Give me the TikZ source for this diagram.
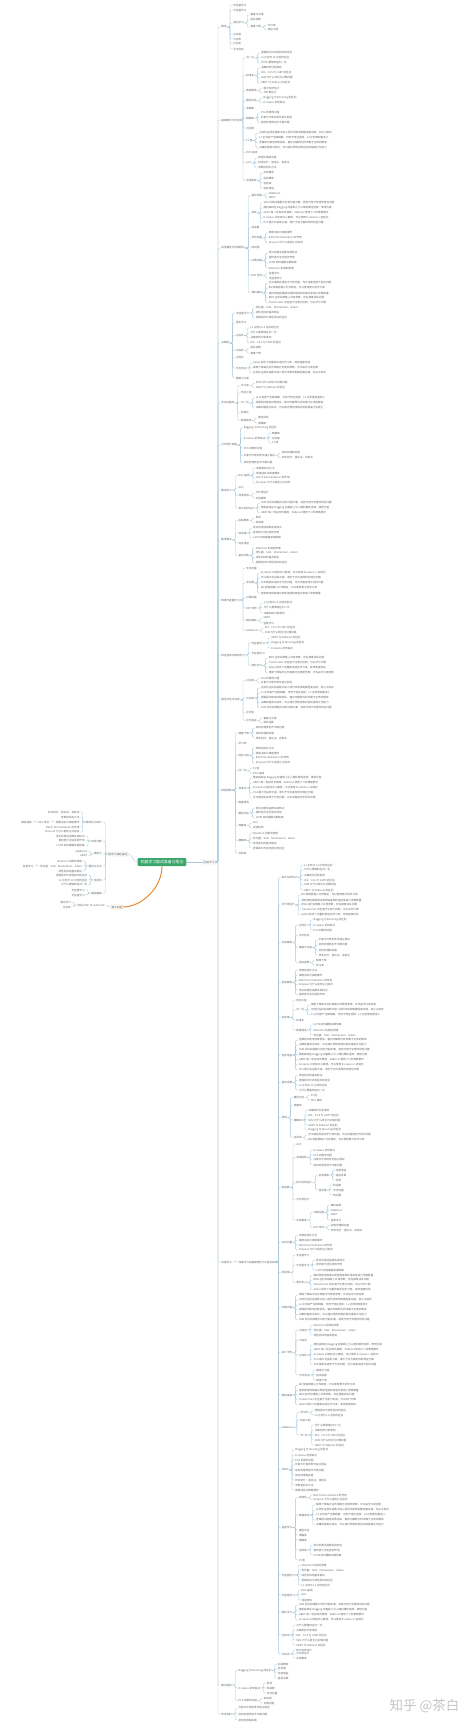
\documentclass[tikz,border=0pt]{standalone}
\usepackage{fontspec}
\newfontfamily\cjk{Noto Sans CJK SC}
\usetikzlibrary{calc}
\definecolor{lnkc}{RGB}{165,200,220}
\definecolor{txt}{RGB}{105,105,105}
\definecolor{cgreen}{RGB}{58,168,108}
\definecolor{corange}{RGB}{232,128,30}
\newcount\pcS \newcount\pcM \newcount\pcL
\newcommand\PoolS{\global\advance\pcS by 1 \ifnum\pcS>39 \global\pcS=0 \fi\ifcase\pcS 监督学习\or 无监督学习\or 半监督学习\or 强化学习\or 过拟合\or 欠拟合\or 正则化\or 交叉验证\or 偏差与方差\or 损失函数\or 梯度下降\or 学习率\or 特征工程\or 归一化\or 标准化\or 数据清洗\or 模型评估\or 准确率\or 精确率\or 召回率\or F1 值\or ROC 曲线\or AUC\or 混淆矩阵\or 极大似然估计\or 贝叶斯估计\or 先验概率\or 后验概率\or 信息熵\or 信息增益\or 基尼系数\or 剪枝\or 核函数\or 支持向量\or 软间隔\or 对偶问题\or KKT 条件\or 随机森林\or AdaBoost\or GBDT\fi}
\newcommand\PoolM{\global\advance\pcM by 1 \ifnum\pcM>23 \global\pcM=0 \fi\ifcase\pcM 线性回归的基本假设\or 逻辑回归与线性回归的区别\or L1 正则与 L2 正则的区别\or 为什么要做特征归一化\or 决策树的分裂准则\or ID3、C4.5 与 CART 的区别\or SVM 为什么转化为对偶问题\or GBDT 与 XGBoost 的区别\or Bagging 与 Boosting 的区别\or K-means 的优缺点\or PCA 的推导过程\or 朴素贝叶斯的条件独立假设\or 如何处理类别不平衡问题\or 如何处理缺失值\or 样本划分：留出法、自助法\or 参数初始化方法\or 梯度消失与梯度爆炸\or Batch Normalization 的作用\or Dropout 为什么能防止过拟合\or 常见的激活函数及其特点\or 卷积层与池化层的作用\or LSTM 如何缓解长期依赖\or Attention 机制的原理\or 优化器：SGD、Momentum、Adam\fi}
\newcommand\PoolL{\global\advance\pcL by 1 \ifnum\pcL>15 \global\pcL=0 \fi\ifcase\pcL 梯度下降每次沿负梯度方向更新参数，步长由学习率控制\or 正则化在损失函数中加入惩罚项来限制模型复杂度，防止过拟合\or L1 正则会产生稀疏解，可用于特征选择；L2 正则使权重变小\or 逻辑回归使用对数损失，输出可解释为样本属于正类的概率\or 决策树容易过拟合，可以通过预剪枝和后剪枝提高泛化能力\or SVM 寻找间隔最大的划分超平面，核技巧用于处理非线性问题\or 随机森林在 Bagging 的基础上引入随机属性选择，降低方差\or GBDT 每一轮拟合负梯度，XGBoost 使用了二阶泰勒展开\or K-means 对初始中心敏感，可以使用 K-means++ 初始化\or PCA 最大化投影方差，等价于协方差矩阵的特征分解\or 交叉熵损失适用于分类问题，均方误差适用于回归问题\or BN 使每层输入分布稳定，可以使用更大的学习率\or 卷积神经网络通过局部连接和权值共享减少参数数量\or RNN 在时间维度上共享参数，存在梯度消失问题\or Transformer 完全基于注意力机制，可以并行计算\or Adam 结合了动量和自适应学习率，收敛速度较快\fi}
\tikzset{
  leaf/.style={anchor=west, inner sep=0.4pt, outer sep=0pt, text=txt, font=\cjk\fontsize{2.6}{3}\selectfont},
  topic/.style={leaf, draw=gray!40, rounded corners=0.8pt, inner sep=0.8pt},
  lnk/.style={draw=lnkc, line width=0.35pt, rounded corners=1.2pt}
}
\newcommand\kid[4]{%
  \coordinate (tmp) at ([xshift=6pt]#1.east);
  \coordinate (yy) at (0,#3);
  \node[leaf] (#2) at (tmp |- yy) {#4};
  \draw[lnk] (#1.east) -- ++(3pt,0) |- (#2.west);}
\newcommand\kidsat[4]{%
  \foreach \yy [count=\ii] in {#3} {%
    \coordinate (tmp) at ([xshift=6pt]#1.east);
    \coordinate (yy) at (0,\yy);
    \node[leaf] (#2\ii) at (tmp |- yy) {\csname Pool#4\endcsname};
    \draw[lnk] (#1.east) -- ++(3pt,0) |- (#2\ii.west);}}
\newcommand\lkid[4]{%
  \coordinate (tmp) at ([xshift=-6pt]#1.west);
  \coordinate (yy) at (0,#3);
  \node[leaf, anchor=east] (#2) at (tmp |- yy) {#4};
  \draw[lnk] (#1.west) -- ++(-3pt,0) |- (#2.east);}
\newcommand\lkidsat[4]{%
  \foreach \yy [count=\ii] in {#3} {%
    \coordinate (tmp) at ([xshift=-6pt]#1.west);
    \coordinate (yy) at (0,\yy);
    \node[leaf, anchor=east] (#2\ii) at (tmp |- yy) {\csname Pool#4\endcsname};
    \draw[lnk] (#1.west) -- ++(-3pt,0) |- (#2\ii.east);}}
\begin{document}
\begin{tikzpicture}[x=1pt,y=-1pt]
\fill[white] (0,0) rectangle (474,1725);
\useasboundingbox (0,0) rectangle (474,1725);
% centre
\node[fill=cgreen, text=white, rounded corners=1pt, inner xsep=3pt, inner ysep=2.2pt, font=\cjk\fontsize{3.9}{4.5}\selectfont] (C) at (162,862) {机器学习面试准备与笔记};
\node[topic] (R) at (203,862) {机器学习};
\node[topic, anchor=east] (L) at (128,854) {数学与编程基础};
\draw[lnk] (C.east) .. controls +(4,0) and +(-4,0) .. (R.west);
\draw[lnk] (L.east) .. controls +(5,0) and +(-5,0) .. (C.west);
% ---------- right tree ----------
\kid{R}{A}{27}{概述}
\kidsat{A}{Ak}{5,10,23,35,39,44,49}{S}
\kidsat{Ak3}{Ak3k}{15,20,27}{S}
\kidsat{Ak3k3}{Ak3k3k}{25,30}{S}
\kid{R}{B}{120}{基础概念与术语}
\kidsat{B}{Bk}{58,75.5,90.5,100.5,108,118,128,140.5,153,163,180.5}{S}
\kidsat{Bk1}{Bk1k}{53,58,63}{M}
\kidsat{Bk2}{Bk2k}{68,73,78,83}{M}
\kidsat{Bk3}{Bk3k}{88,93}{S}
\kidsat{Bk4}{Bk4k}{98,103}{M}
\kidsat{Bk6}{Bk6k}{113,118,123}{M}
\kidsat{Bk8}{Bk8k}{133,138,143,148}{L}
\kidsat{Bk10}{Bk10k}{158,163,168}{M}
\kidsat{Bk11}{Bk11k}{173,178,183,188}{S}
\kid{R}{C2}{248}{线性模型与逻辑回归}
\kidsat{C2}{Ck}{195.5,213,228,238,248,260.5,275.5,293}{S}
\kidsat{Ck1}{Ck1k}{193,198}{S}
\kidsat{Ck2}{Ck2k}{203,208,213,218,223}{L}
\kidsat{Ck4}{Ck4k}{233,238,243}{M}
\kidsat{Ck6}{Ck6k}{253,258,263,268}{M}
\kidsat{Ck7}{Ck7k}{273,278}{S}
\kidsat{Ck8}{Ck8k}{283,288,293,298,303}{L}
\kid{R}{D}{343}{决策树}
\kidsat{D}{Dk}{313,323,335.5,350.5,358,368,378}{S}
\kidsat{Dk1}{Dk1k}{308,313,318}{M}
\kidsat{Dk3}{Dk3k}{328,333,338,343}{M}
\kidsat{Dk4}{Dk4k}{348,353}{S}
\kidsat{Dk6}{Dk6k}{363,368,373}{L}
\kid{R}{E}{403}{支持向量机}
\kidsat{E}{Ek}{385.5,393,403,413,420.5}{S}
\kidsat{Ek1}{Ek1k}{383,388}{M}
\kidsat{Ek3}{Ek3k}{398,403,408}{L}
\kidsat{Ek5}{Ek5k}{418,423}{S}
\kid{R}{F}{445}{贝叶斯分类器}
\kidsat{F}{Fk}{428,438,448,455.5,463}{M}
\kidsat{Fk2}{Fk2k}{433,438,443}{S}
\kidsat{Fk4}{Fk4k}{453,458}{M}
\kid{R}{G}{490}{集成学习}
\kidsat{G}{Gk}{475.5,488,495.5,508}{S}
\kidsat{Gk1}{Gk1k}{468,473,478,483}{M}
\kidsat{Gk3}{Gk3k}{493,498}{S}
\kidsat{Gk4}{Gk4k}{503,508,513}{L}
\kid{R}{H}{540}{聚类算法}
\kidsat{H}{Hk}{520.5,533,543,555.5}{S}
\kidsat{Hk1}{Hk1k}{518,523}{S}
\kidsat{Hk2}{Hk2k}{528,533,538}{M}
\kidsat{Hk4}{Hk4k}{548,553,558,563}{M}
\kid{R}{I}{600}{降维与度量学习}
\kidsat{I}{Ik}{568,583,598,608,620.5,630.5}{S}
\kidsat{Ik2}{Ik2k}{573,578,583,588,593}{L}
\kidsat{Ik4}{Ik4k}{603,608,613}{M}
\kidsat{Ik5}{Ik5k}{618,623}{S}
\kidsat{Ik6}{Ik6k}{628,633}{M}
\kid{R}{J}{655}{特征选择与稀疏学习}
\kidsat{J}{Jk}{643,653,665.5}{S}
\kidsat{Jk1}{Jk1k}{638,643,648}{M}
\kidsat{Jk3}{Jk3k}{658,663,668,673}{L}
\kid{R}{K}{700}{模型评估与选择}
\kidsat{K}{Kk}{680.5,698,713,720.5}{S}
\kidsat{Kk1}{Kk1k}{678,683}{M}
\kidsat{Kk2}{Kk2k}{688,693,698,703,708}{L}
\kidsat{Kk4}{Kk4k}{718,723}{S}
\kid{R}{M}{790}{神经网络}
\kidsat{M}{Mk}{733,743,755.5,770.5,788,803,813,825.5,840.5,853}{S}
\kidsat{Mk1}{Mk1k}{728,733,738}{M}
\kidsat{Mk3}{Mk3k}{748,753,758,763}{M}
\kidsat{Mk4}{Mk4k}{768,773}{S}
\kidsat{Mk5}{Mk5k}{778,783,788,793,798}{L}
\kidsat{Mk7}{Mk7k}{808,813,818}{M}
\kidsat{Mk8}{Mk8k}{823,828}{S}
\kidsat{Mk9}{Mk9k}{833,838,843,848}{M}
\kid{R}{N}{1262}{深度学习}
\kid{N}{N0}{1262}{深度学习的基础理论与工程实践}
\kidsat{N0}{n}{877.5,905,942.5,982.5,1017.5,1055,1082.5,1117.5,1187.5,1242.5,1272.5,1307.5,1352.5,1395,1427.5,1470,1527.5,1575,1595,1612.5,1635,1654}{S}
\kidsat{n1}{n1k}{865,870,875,880,885,890}{M}
\kidsat{n2}{n2k}{895,900,905,910,915}{L}
\kidsat{n3}{n3k}{925,935,947.5,962.5}{S}
\kidsat{n3k1}{n3k1k}{920,925,930}{M}
\kidsat{n3k3}{n3k3k}{940,945,950,955}{M}
\kidsat{n3k4}{n3k4k}{960,965}{S}
\kidsat{n4}{n4k}{970,975,980,985,990,995}{M}
\kidsat{n5}{n5k}{1000,1010,1020,1030}{S}
\kidsat{n5k2}{n5k2k}{1005,1010,1015}{L}
\kidsat{n5k4}{n5k4k}{1025,1030,1035}{M}
\kidsat{n6}{n6k}{1040,1045,1050,1055,1060,1065,1070}{L}
\kidsat{n7}{n7k}{1075,1080,1085,1090}{M}
\kidsat{n8}{n8k}{1097.5,1105,1120,1137.5}{S}
\kidsat{n8k1}{n8k1k}{1095,1100}{S}
\kidsat{n8k3}{n8k3k}{1110,1115,1120,1125,1130}{M}
\kidsat{n8k4}{n8k4k}{1135,1140}{L}
\kidsat{n9}{n9k}{1145,1157.5,1182.5,1200,1220}{S}
\kidsat{n9k2}{n9k2k}{1150,1155,1160,1165}{M}
\kidsat{n9k3}{n9k3k}{1175,1190}{S}
\kidsat{n9k3k1}{n9k3k1k}{1170,1175,1180}{S}
\kidsat{n9k3k2}{n9k3k2k}{1185,1190,1195}{S}
\kidsat{n9k5}{n9k5k}{1212.5,1227.5}{S}
\kidsat{n9k5k1}{n9k5k1k}{1205,1210,1215,1220}{S}
\kidsat{n9k5k2}{n9k5k2k}{1225,1230}{M}
\kidsat{n10}{n10k}{1235,1240,1245,1250}{M}
\kidsat{n11}{n11k}{1255,1265,1282.5}{S}
\kidsat{n11k2}{n11k2k}{1260,1265,1270}{M}
\kidsat{n11k3}{n11k3k}{1275,1280,1285,1290}{L}
\kidsat{n12}{n12k}{1295,1300,1305,1310,1315,1320}{L}
\kidsat{n13}{n13k}{1330,1340,1355,1375}{S}
\kidsat{n13k1}{n13k1k}{1325,1330,1335}{M}
\kidsat{n13k3}{n13k3k}{1345,1350,1355,1360,1365}{L}
\kidsat{n13k4}{n13k4k}{1370,1375,1380}{S}
\kidsat{n14}{n14k}{1385,1390,1395,1400,1405}{L}
\kidsat{n15}{n15k}{1412.5,1420,1435}{S}
\kidsat{n15k1}{n15k1k}{1410,1415}{M}
\kidsat{n15k3}{n15k3k}{1425,1430,1435,1440,1445}{M}
\kidsat{n16}{n16k}{1450,1455,1460,1465,1470,1475,1480,1485,1490}{M}
\kidsat{n17}{n17k}{1497.5,1515,1530,1535,1540,1550,1560}{S}
\kidsat{n17k1}{n17k1k}{1495,1500}{M}
\kidsat{n17k2}{n17k2k}{1505,1510,1515,1520,1525}{L}
\kidsat{n17k6}{n17k6k}{1545,1550,1555}{M}
\kidsat{n18}{n18k}{1565,1570,1575,1580,1585}{M}
\kidsat{n19}{n19k}{1590,1595,1600}{S}
\kidsat{n20}{n20k}{1605,1610,1615,1620}{L}
\kidsat{n21}{n21k}{1625,1630,1635,1640,1645}{M}
\kidsat{n22}{n22k}{1650,1654,1658}{S}
\kid{R}{P}{1685}{面试经验}
\kidsat{P}{Pk}{1670.5,1688,1700.5}{M}
\kidsat{Pk1}{Pk1k}{1664,1668.5,1673,1678}{S}
\kidsat{Pk2}{Pk2k}{1683,1688,1693}{S}
\kidsat{Pk3}{Pk3k}{1698,1703}{S}
\kid{R}{Q}{1714}{参考资料}
\kidsat{Q}{Qk}{1708,1714,1720}{M}
% ---------- left tree ----------
\lkid{L}{l1}{822}{概率论与统计}
\lkidsat{l1}{l1k}{812,817,822,827,832}{M}
\lkidsat{l1k3}{l1k3k}{822}{S}
\lkidsat{l1k3k1}{l1k3k1k}{822}{S}
\lkid{L}{l2}{841}{线性代数}
\lkidsat{l2}{l2k}{836,841,846}{M}
\lkid{L}{l3}{854}{微积分}
\lkidsat{l3}{l3k}{851,856}{S}
\lkid{L}{l4}{866}{最优化方法}
\lkidsat{l4}{l4k}{861,866,871}{M}
\lkidsat{l4k2}{l4k2k}{866}{S}
\lkid{L}{l5}{880}{信息论}
\lkidsat{l5}{l5k}{875,880,885}{M}
\lkid{L}{l6}{893}{编程基础}
\lkidsat{l6}{l6k}{890,895}{S}
% ---------- orange branch ----------
\node[topic, draw=corange!55, anchor=east] (O) at (123,907) {算法刷题};
\draw[corange, line width=0.9pt] (C.south) .. controls +(0,22) and +(18,0) .. (O.east);
\lkid{O}{o1}{905}{剑指 Offer 与 LeetCode}
\lkidsat{o1}{o1k}{902,907}{S}
% watermark
\node[text=gray!45, font=\cjk\fontsize{13.5}{14}\selectfont, anchor=east] (wm) at (463,1706) {知乎 @茶白};
\end{tikzpicture}
\end{document}
